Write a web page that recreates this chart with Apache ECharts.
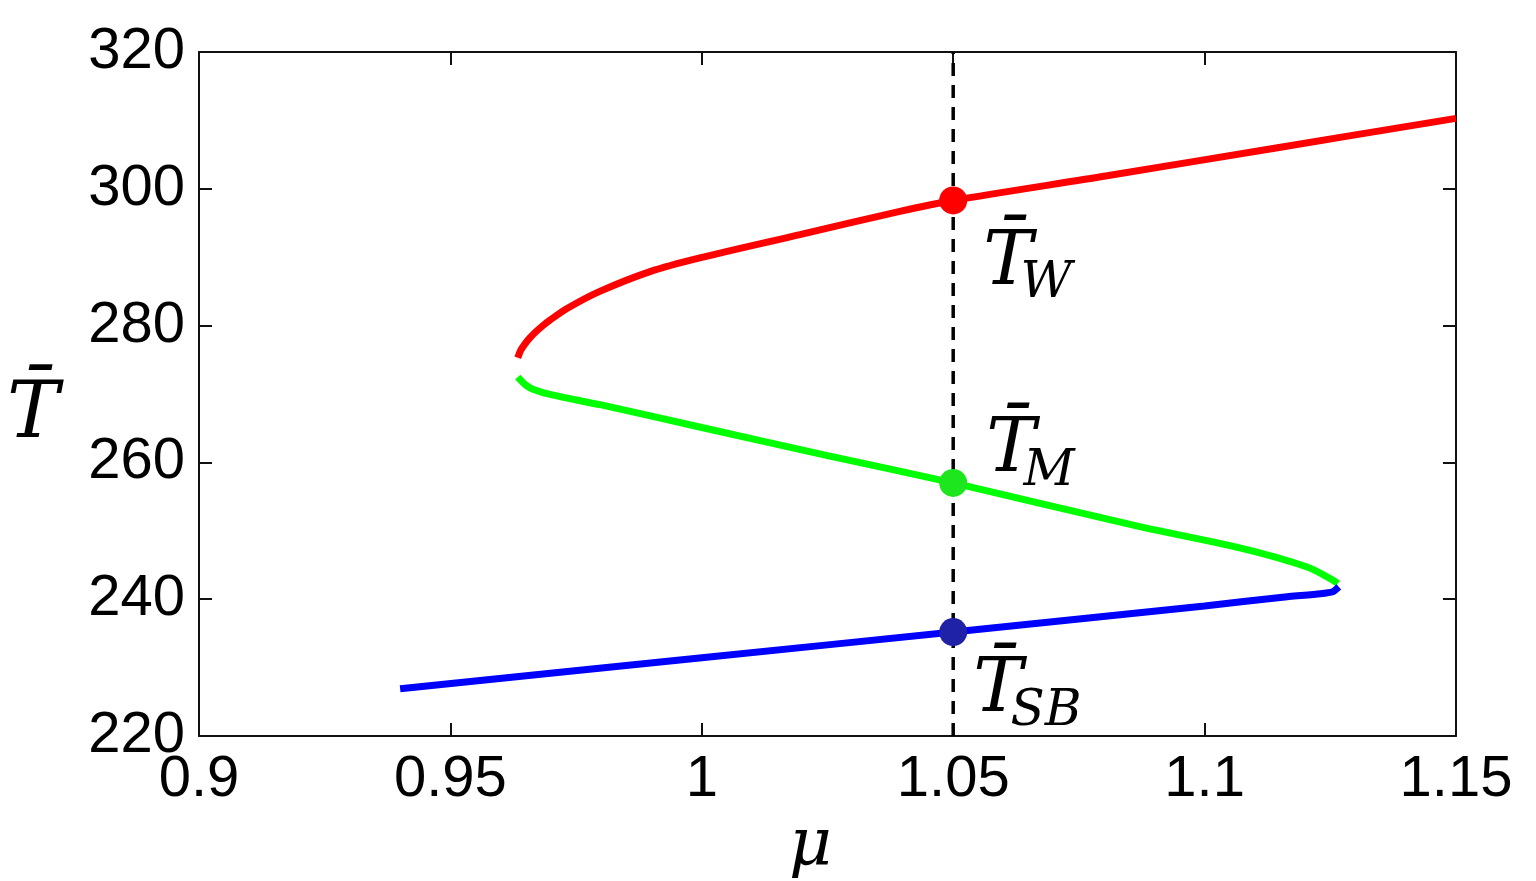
<!DOCTYPE html>
<html>
<head>
<meta charset="utf-8">
<script src="https://cdn.jsdelivr.net/npm/echarts@6/dist/echarts.min.js"></script>
<style>html,body{margin:0;padding:0;background:#fff}#c{width:1536px;height:881px}</style>
</head>
<body>
<div id="c"></div>
<script>
// Upper (warm) branch: [mu, T]
var warmBranch = [[0.9634,275.3],[0.9640,276.4],[0.9648,277.3],[0.9658,278.2],[0.9670,279.1],[0.9684,280.0],[0.9698,280.8],[0.9732,282.5],[0.9797,285.0],[0.9897,287.9],[0.9996,289.9],[1.0195,293.3],[1.0394,296.7],[1.05,298.3],[1.0806,301.9],[1.1136,305.9],[1.15,310.3]];
// Middle branch
var middleBranch = [[0.9634,272.5],[0.9640,272.0],[0.9650,271.3],[0.9664,270.7],[0.9700,269.9],[0.98,268.4],[1.0,265.1],[1.025,261.0],[1.05,257.0],[1.0871,250.6],[1.107,247.5],[1.1204,244.7],[1.1255,242.8],[1.1265,242.3]];
// Lower (snowball) branch
var snowballBranch = [[0.94,226.9],[1.0,231.45],[1.05,235.2],[1.1,239.0],[1.1155,240.3],[1.1230,240.8],[1.1255,241.1],[1.1267,241.8]];
// Equilibria at mu = 1.05
var muMark = 1.05;
var eqW = [[1.05,298.3]];
var eqM = [[1.05,257.0]];
var eqSB = [[1.05,235.2]];
var xTicks = [0.9,0.95,1,1.05,1.1,1.15];
var yTicks = [220,240,260,280,300,320];

var chart = echarts.init(document.getElementById('c'));
var axisFont = 'Liberation Sans, Arial, sans-serif';
var mathFont = 'DejaVu Serif, Liberation Serif, serif';
function xAx(pos, show){
  return {type:'value', position:pos, min:0.9, max:1.15, interval:0.05,
    axisLine:{show:true,onZero:false,lineStyle:{color:'#111',width:2}},
    axisTick:{show:true,inside:true,length:13,lineStyle:{color:'#111',width:2}},
    splitLine:{show:false},
    axisLabel:{show:show,color:'#000',fontSize:58,fontFamily:axisFont,margin:15,
      formatter:function(v){return String(Math.round(v*100)/100);}},
    name: show ? 'μ' : '', nameLocation:'middle', nameGap:56,
    nameTextStyle:{fontSize:66,fontStyle:'italic',fontFamily:mathFont,color:'#000',padding:[0,34,0,0]}};
}
function yAx(pos, show){
  return {type:'value', position:pos, min:220, max:320, interval:20,
    axisLine:{show:true,onZero:false,lineStyle:{color:'#111',width:2}},
    axisTick:{show:true,inside:true,length:13,lineStyle:{color:'#111',width:2}},
    splitLine:{show:false},
    axisLabel:{show:show,color:'#000',fontSize:58,fontFamily:axisFont,margin:14},
    name: show ? '{a|T\u0304}' : '', nameLocation:'middle', nameGap:140, nameRotate:0,
    nameTextStyle:{color:'#000',
      rich:{a:{fontSize:78,fontStyle:'italic',fontFamily:mathFont,color:'#000',lineHeight:124,verticalAlign:'bottom'}}}};
}
function eqLabel(sub, off){
  return {show:true, position:'right', distance:0, offset:off,
    formatter:'{t|T\u0304}{s|'+sub+'}',
    rich:{t:{fontSize:74,fontStyle:'italic',fontFamily:mathFont,color:'#000',verticalAlign:'top',lineHeight:82},
          s:{fontSize:50,fontStyle:'italic',fontFamily:mathFont,color:'#000',verticalAlign:'bottom',lineHeight:82,padding:[0,0,0,-12]}}};
}
var option = {
  animation:false,
  backgroundColor:'#fff',
  grid:{left:199,right:80,top:52,bottom:145,containLabel:false,outerBoundsMode:'none'},
  xAxis:[xAx('bottom',true), xAx('top',false)],
  yAxis:[yAx('left',true), yAx('right',false)],
  series:[
    {type:'line', data:[[muMark,220],[muMark,320]], symbol:'none', silent:true,
      lineStyle:{color:'#000',width:3.5,type:[13,9]}, z:1},
    {type:'line', data:warmBranch, symbol:'none', smooth:0.3, lineStyle:{color:'#ff0000',width:7}, z:2},
    {type:'line', data:middleBranch, symbol:'none', smooth:0.3, lineStyle:{color:'#00ff00',width:7}, z:2},
    {type:'line', data:snowballBranch, symbol:'none', smooth:0.2, lineStyle:{color:'#0000ff',width:7}, z:2},
    {type:'scatter', data:eqW, symbolSize:28, itemStyle:{color:'#ff0000',opacity:1}, z:5, label:eqLabel('W',[16,68])},
    {type:'scatter', data:eqM, symbolSize:28, itemStyle:{color:'#1ee61e',opacity:1}, z:5, label:eqLabel('M',[19,-27])},
    {type:'scatter', data:eqSB, symbolSize:28, itemStyle:{color:'#1f22a6',opacity:1}, z:5, label:eqLabel('SB',[6,64])}
  ]
};
chart.setOption(option);
</script>
</body>
</html>
